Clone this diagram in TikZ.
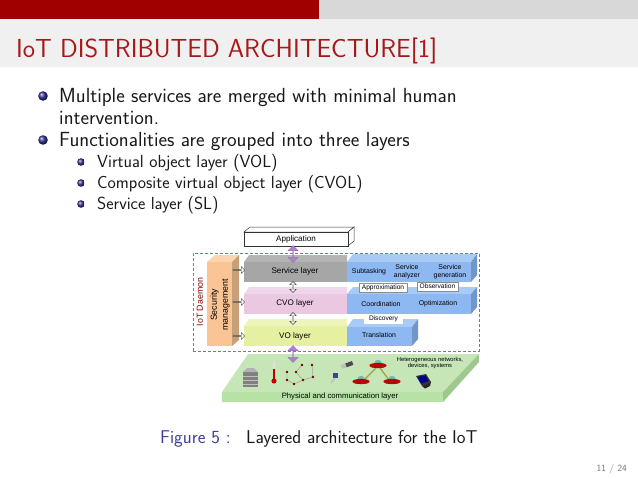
\documentclass[tikz,border=0pt]{standalone}
\usepackage{fontspec}
\newfontfamily\dia{Liberation Sans}
\usetikzlibrary{shapes.arrows,shapes.geometric}
\definecolor{redband}{HTML}{A00000}
\definecolor{greyband}{HTML}{D8D8D8}
\definecolor{titleband}{HTML}{F0F0F0}
\definecolor{titletext}{HTML}{A81818}
\definecolor{ballblue}{HTML}{33338F}
\definecolor{capblue}{HTML}{3F3F9C}
\definecolor{blueF}{HTML}{8DB8F2}
\definecolor{blueT}{HTML}{A8CBF5}
\definecolor{blueS}{HTML}{6F97C8}
\definecolor{greyF}{HTML}{A6A6A6}
\definecolor{greyT}{HTML}{B4B4B4}
\definecolor{pinkF}{HTML}{EBC8E2}
\definecolor{pinkT}{HTML}{F0D6EA}
\definecolor{yelF}{HTML}{E6F0A0}
\definecolor{yelT}{HTML}{EEF5BC}
\definecolor{orF}{HTML}{FAC494}
\definecolor{orT}{HTML}{FBD4B0}
\definecolor{orS}{HTML}{C8A078}
\definecolor{grF}{HTML}{B6E2A6}
\definecolor{grT}{HTML}{C6E6B8}
\definecolor{grS}{HTML}{9FC88E}
\definecolor{purp}{HTML}{A884CC}
\definecolor{maroon2}{HTML}{B5607A}
\tikzset{
  body/.style={anchor=base west,inner sep=0pt,font=\fontsize{20.4}{22}\selectfont\sffamily,text=black!90},
  sub/.style={anchor=base west,inner sep=0pt,font=\fontsize{17.5}{19}\selectfont\sffamily,text=black!90},
  lab/.style={inner sep=0pt,align=center,font=\fontsize{6.9}{7.6}\selectfont\dia,text=black},
  laybl/.style={inner sep=0pt,align=center,font=\fontsize{8.1}{9}\selectfont\dia,text=black},
  tag/.style={draw=black!45,line width=.3pt,fill=white,inner sep=0pt,minimum height=9pt,font=\fontsize{6.6}{7}\selectfont\dia,text=black},
  hollowv/.style={double arrow,draw=black!75,fill=white,line width=.4pt,rotate=90,inner sep=0pt,minimum width=6.5pt,double arrow head extend=1pt},
  hollowh/.style={single arrow,draw=black!75,fill=white,line width=.4pt,inner sep=0pt,minimum width=7pt,minimum height=12pt,single arrow head extend=1.5pt,single arrow head indent=0pt},
  purpv/.style={double arrow,draw=purp!80!black,fill=purp,line width=.2pt,rotate=90,inner sep=0pt,minimum width=10.5pt,minimum height=17pt,double arrow head extend=2pt},
  netdot/.style={circle,fill=red!45!black,inner sep=0pt,minimum size=2.8pt},
  netlink/.style={draw=black!45,line width=.35pt},
}
\newcommand{\ballbullet}[3]{\shade[ball color=ballblue] (#1,#2) circle (#3);}
\newcommand{\carshape}[2]{%
  \fill[teal!55] (#1,#2-1) ellipse (3.6pt and 3.2pt);
  \fill[red!75!black] (#1,#2+1.5) ellipse (8.6pt and 2.6pt);
  \fill[black!70] (#1-5,#2+3.2) circle (1pt);
  \fill[black!70] (#1+5,#2+3.2) circle (1pt);
}
\begin{document}
\begin{tikzpicture}[x=1pt,y=-1pt]
\useasboundingbox (0,0) rectangle (638,479);
\fill[white] (0,0) rectangle (638,479);
% header
\fill[redband] (0,0) rectangle (319,19);
\fill[greyband] (319,0) rectangle (638,19);
\fill[titleband] (0,19) rectangle (638,67);
\node[anchor=base west,inner sep=0pt,text=titletext,font=\fontsize{26.1}{28}\selectfont\sffamily] (title) at (16,57) {IoT DISTRIBUTED ARCHITECTURE[1]};
% bullets
\ballbullet{43}{96}{4.8pt}
\ballbullet{43}{140}{4.8pt}
\ballbullet{81}{162}{3.8pt}
\ballbullet{81}{183}{3.8pt}
\ballbullet{81}{204}{3.8pt}
\node[body] (t1) at (59,102) {Multiple services are merged with minimal human};
\node[body] (t2) at (59,124) {intervention.};
\node[body] (t3) at (59,146) {Functionalities are grouped into three layers};
\node[sub] (s1) at (97,167) {Virtual object layer (VOL)};
\node[sub] (s2) at (97,188) {Composite virtual object layer (CVOL)};
\node[sub] (s3) at (97,209) {Service layer (SL)};
% application box
\filldraw[fill=white,draw=black!80,line width=.5pt] (244,232) -- (250,227) -- (354,227) -- (348,232) -- cycle;
\filldraw[fill=white,draw=black!80,line width=.5pt] (348,232) -- (354,227) -- (354,241) -- (348,246) -- cycle;
\node[draw=black!80,fill=white,line width=.5pt,minimum width=104pt,minimum height=14pt,inner sep=0pt,laybl] (app) at (296,239) {Application};
% dashed frame
\node[draw=maroon2,densely dashed,line width=.5pt,minimum width=286pt,minimum height=98pt,inner sep=0pt] (frame) at (336,302) {};
% security
\fill[orT] (207,262) -- (215,255) -- (239,255) -- (232,262) -- cycle;
\fill[orS] (232,262) -- (239,255) -- (239,340) -- (232,346) -- cycle;
\fill[orF] (207,262) rectangle (232,346);
\node[rotate=90,inner sep=0pt,font=\fontsize{8.8}{9}\selectfont\dia,text=red!55!black] (daemon) at (200,302) {IoT Daemon};
\node[rotate=90,inner sep=0pt,align=center,font=\fontsize{8.8}{11}\selectfont\dia,text=black] (secm) at (220,305) {Security\\management};
% layers
\fill[greyT] (244,262) -- (249,255) -- (347,255) -- (347,262) -- cycle;
\fill[greyF] (244,262) rectangle (347,282);
\node[laybl] (svc) at (295,271) {Service layer};
\fill[pinkT] (244,294) -- (249,287) -- (347,287) -- (347,294) -- cycle;
\fill[pinkF] (244,294) rectangle (347,314);
\node[laybl] (cvo) at (295,303) {CVO layer};
\fill[yelT] (244,326) -- (249,319) -- (347,319) -- (347,326) -- cycle;
\fill[yelF] (244,326) rectangle (347,346);
\node[laybl] (vo) at (295,336) {VO layer};
% blue blocks
\fill[blueT] (347,262) -- (353,254) -- (477,254) -- (471,262) -- cycle;
\fill[blueS] (471,262) -- (477,254) -- (477,275) -- (471,282) -- cycle;
\fill[blueF] (347,262) rectangle (471,282);
\fill[blueT] (347,294) -- (353,287) -- (477,287) -- (471,294) -- cycle;
\fill[blueS] (471,294) -- (477,287) -- (477,307) -- (471,314) -- cycle;
\fill[blueF] (347,294) rectangle (471,314);
\fill[blueT] (347,327) -- (353,319) -- (418,319) -- (412,327) -- cycle;
\fill[blueS] (412,327) -- (418,319) -- (418,339) -- (412,346) -- cycle;
\fill[blueF] (347,327) rectangle (412,346);
\node[lab] (subt) at (369,272) {Subtasking};
\node[lab] (sana) at (407,272) {Service\\analyzer};
\node[lab] (sgen) at (450,272) {Service\\generation};
\node[lab] (coord) at (381,304) {Coordination};
\node[lab] (opti) at (438,304) {Optimization};
\node[lab] (trans) at (379,335) {Translation};
\node[tag,minimum width=48pt] (appr) at (383,287.5) {Approximation};
\node[tag,minimum width=41pt] (obs) at (437.5,286.5) {Observation};
\node[tag,draw=none,minimum width=39pt,minimum height=10pt] (disc) at (383.5,319) {Discovery};
% physical layer
\fill[grT] (222,392) -- (248,354) -- (479,354) -- (443,392) -- cycle;
\fill[grS] (443,392) -- (479,354) -- (479,362) -- (443,402) -- cycle;
\fill[grF] (222,392) rectangle (443,402);
\node[lab,font=\fontsize{7.7}{8.5}\selectfont\dia] (phys) at (340,397) {Physical and communication layer};
\node[lab,font=\fontsize{5.8}{6.6}\selectfont\dia] (het) at (430,363) {Heterogeneous networks,\\devices, systems};
% arrows
\node[purpv] (pa) at (293,254) {};
\node[purpv] (pb) at (293,354) {};
\node[hollowv,minimum height=11pt] (ha) at (293,287) {};
\node[hollowv,minimum height=12pt] (hb) at (293,318.5) {};
\node[hollowh] (h1) at (238.5,270) {};
\node[hollowh] (h2) at (238.5,302) {};
\node[hollowh] (h3) at (238.5,336) {};
% server icon
\fill[black!50] (243,372) rectangle (258,387);
\fill[black!30] (243,372) -- (247,368) -- (254,368) -- (258,372) -- cycle;
\draw[black!25,line width=.6pt] (243,376) -- (258,376) (243,380) -- (258,380) (243,384) -- (258,384);
% thermometer
\fill[black!12] (272.7,361) rectangle (275.3,378);
\fill[red!75!black] (272.9,369) rectangle (275.1,380);
\fill[red!75!black] (274,381) circle (2.6pt);
% network
\coordinate (n1) at (302,365);
\coordinate (n2) at (312,365);
\coordinate (n3) at (287,372);
\coordinate (n4) at (296,372);
\coordinate (n5) at (313,377);
\coordinate (n6) at (303,380);
\coordinate (n7) at (287,380);
\coordinate (n8) at (294,384);
\draw[netlink] (n3) -- (n7) (n4) -- (n1) (n4) -- (n6) (n6) -- (n5) (n6) -- (n8) (n5) -- (n2) (n7) -- (n8);
\foreach \p in {n1,n2,n3,n4,n5,n6,n7,n8}{\node[netdot] at (\p) {};}
% camera
\fill[black!25,rotate around={20:(347,365)}] (341,363) rectangle (353,367);
\fill[black!70,rotate around={20:(347,365)}] (346,363) rectangle (353,367);
% sensor
\fill[blue!45!black!75] (333,373) rectangle (338,378);
\draw[black!25,line width=1.4pt] (335,378) -- (331,383);
% cars + links
\draw[yellow!60!black,line width=1.3pt] (376,368) -- (364,380) (380,368) -- (389,380);
\carshape{378}{364}
\carshape{361}{380}
\carshape{392}{380}
% laptop
\fill[black!80] (416,376) -- (426,374) -- (431,382) -- (422,386) -- cycle;
\fill[blue!55!black] (417.5,377) -- (425.5,375.5) -- (428.5,381) -- (421,383.5) -- cycle;
\fill[black!85] (422,386) -- (431,382) -- (430,386) -- (425,388.5) -- cycle;
% caption and footer
\node[anchor=base west,inner sep=0pt,text=capblue,font=\fontsize{18.5}{20}\selectfont\sffamily] (figl) at (160,443) {Figure 5 :};
\node[anchor=base west,inner sep=0pt,text=black!90,font=\fontsize{18.5}{20}\selectfont\sffamily] (figc) at (246,443) {Layered architecture for the IoT};
\node[anchor=base east,inner sep=0pt,text=black!55,font=\fontsize{9.5}{11}\selectfont\sffamily] (pg) at (627,471) {11 / 24};
\end{tikzpicture}
\end{document}
